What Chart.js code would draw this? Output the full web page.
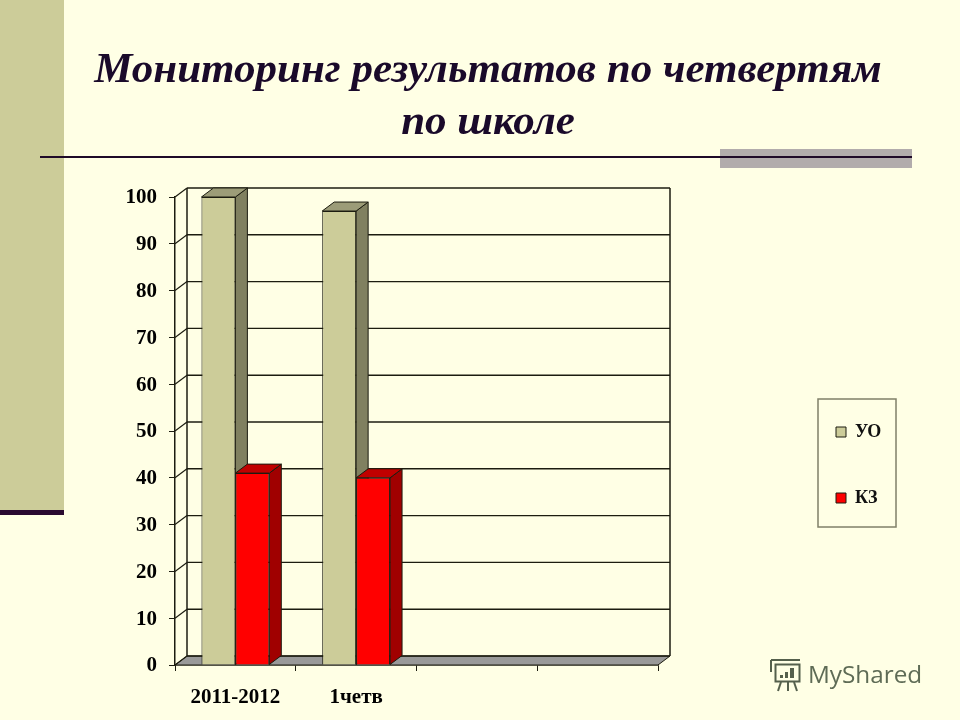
<!DOCTYPE html>
<html>
<head>
<meta charset="utf-8">
<style>html,body{margin:0;padding:0;background:#FFFFE5;overflow:hidden}canvas{display:block}</style>
<script src="https://cdn.jsdelivr.net/npm/chart.js@4"></script>
</head>
<body>
<canvas id="c" width="960" height="720" style="width:960px;height:720px"></canvas>
<script>
const titleLines = ['Мониторинг результатов по четвертям', 'по школе'];
const categories = ['2011-2012', '1четв', '', ''];
const seriesUO = [100, 97, null, null];
const seriesKZ = [41, 40, null, null];
const yTicks = [0, 10, 20, 30, 40, 50, 60, 70, 80, 90, 100];

const DX = 12, DY = -9;
const INK = '#1c1c10';
const serif = '"Liberation Serif","Times New Roman",serif';
const faces = [
  {top: '#9C9C78', side: '#808060'},
  {top: '#C00000', side: '#A00000'}
];

function poly(ctx, pts, fill, stroke) {
  ctx.beginPath();
  pts.forEach((p, i) => i ? ctx.lineTo(p[0], p[1]) : ctx.moveTo(p[0], p[1]));
  ctx.closePath();
  if (fill) { ctx.fillStyle = fill; ctx.fill(); }
  if (stroke) { ctx.strokeStyle = stroke; ctx.lineWidth = 1; ctx.stroke(); }
}
function line(ctx, x1, y1, x2, y2, c, w) {
  ctx.beginPath(); ctx.moveTo(x1, y1); ctx.lineTo(x2, y2);
  ctx.strokeStyle = c; ctx.lineWidth = w || 1; ctx.stroke();
}

const slide = {
  id: 'slide',
  afterLayout(chart) {
    const t = chart.titleBlock;
    t.left = 16; t.right = 960;
    const l = chart.legend;
    l.left = 788; l.right = 960; l.top = 375; l.bottom = 640;
  },
  beforeDraw(chart) {
    const ctx = chart.ctx;
    ctx.save();
    ctx.fillStyle = '#FFFFE5'; ctx.fillRect(0, 0, 960, 720);
    ctx.fillStyle = '#CCCC99'; ctx.fillRect(0, 0, 64, 510);
    ctx.fillStyle = '#2A0A30'; ctx.fillRect(0, 510, 64, 5);
    ctx.fillStyle = '#B2ACAC'; ctx.fillRect(720, 149, 192, 19);
    ctx.fillStyle = '#1F0A28'; ctx.fillRect(40, 156, 872, 2);
    ctx.strokeStyle = '#808068'; ctx.lineWidth = 1.5;
    ctx.strokeRect(818, 399, 78, 128);
    // MyShared mark
    ctx.strokeStyle = '#55604C'; ctx.lineWidth = 2;
    ctx.strokeRect(775.5, 664.5, 24, 17);
    line(ctx, 771, 660, 800, 660, '#55604C', 2);
    line(ctx, 771, 660, 771, 672, '#55604C', 2);
    line(ctx, 781, 682, 778, 691, '#55604C', 2);
    line(ctx, 788, 682, 788, 691, '#55604C', 2);
    line(ctx, 794, 682, 797, 691, '#55604C', 2);
    ctx.fillStyle = '#55604C';
    ctx.fillRect(780, 675, 3, 3); ctx.fillRect(785, 672, 3, 6); ctx.fillRect(790, 668, 4, 10);
    ctx.fillStyle = '#5E6B55';
    ctx.font = '24.3px "Open Sans"';
    ctx.textBaseline = 'alphabetic'; ctx.textAlign = 'left';
    ctx.fillText('MyShared', 808, 683);
    ctx.restore();
  },
  beforeDatasetsDraw(chart) {
    const ctx = chart.ctx, a = chart.chartArea, y = chart.scales.y;
    ctx.save();
    // floor
    poly(ctx, [[a.left, a.bottom], [a.left + DX, a.bottom + DY], [a.right + DX, a.bottom + DY], [a.right, a.bottom]], '#999999', INK);
    // walls
    line(ctx, a.left + DX, a.top + DY, a.left + DX, a.bottom + DY, INK, 1.5);
    line(ctx, a.right + DX, a.top + DY, a.right + DX, a.bottom + DY, INK, 1.5);
    yTicks.forEach(v => {
      const py = y.getPixelForValue(v);
      line(ctx, a.left, py, a.left + DX, py + DY, INK, 1.2);
      line(ctx, a.left + DX, py + DY, a.right + DX, py + DY, INK, 1.4);
    });
    // side and top faces of bars
    [0, 1].forEach(d => {
      const values = chart.data.datasets[d].data;
      chart.getDatasetMeta(d).data.forEach((b, i) => {
        if (values[i] == null) return;
        const l = b.x - b.width / 2, r = b.x + b.width / 2;
        poly(ctx, [[r, b.y], [r + DX, b.y + DY], [r + DX, b.base + DY], [r, b.base]], faces[d].side, INK);
        poly(ctx, [[l, b.y], [l + DX, b.y + DY], [r + DX, b.y + DY], [r, b.y]], faces[d].top, INK);
      });
    });
    ctx.restore();
  }
};

new Chart(document.getElementById('c'), {
  type: 'bar',
  data: {
    labels: categories,
    datasets: [
      {label: 'УО', data: seriesUO, backgroundColor: '#CCCC99', borderColor: INK, borderWidth: 1},
      {label: 'КЗ', data: seriesKZ, backgroundColor: '#FF0000', borderColor: INK, borderWidth: 1}
    ]
  },
  plugins: [slide],
  options: {
    responsive: false,
    animation: false,
    devicePixelRatio: 1,
    layout: {padding: {left: 75, right: 302, top: 0, bottom: 0}},
    datasets: {bar: {barPercentage: 1, categoryPercentage: 68 / 121}},
    plugins: {
      tooltip: {enabled: false},
      title: {
        display: true,
        text: titleLines,
        color: '#1A0A2A',
        font: {family: serif, size: 43, weight: 'bold', style: 'italic', lineHeight: 1.2},
        padding: {top: 45, bottom: 48.8}
      },
      legend: {
        position: 'chartArea',
        align: 'start',
        labels: {
          boxWidth: 10, boxHeight: 10, padding: 48,
          color: '#111', font: {family: serif, size: 18, weight: 'bold'}
        }
      }
    },
    scales: {
      x: {
        afterFit(s) { s.height = 55; },
        grid: {drawOnChartArea: false, tickLength: 6, color: INK},
        border: {color: INK, width: 1.5},
        ticks: {autoSkip: false, maxRotation: 0, padding: 14, color: '#000', font: {family: serif, size: 21, weight: 'bold'}}
      },
      y: {
        min: 0, max: 100,
        afterFit(s) { s.width = 100; },
        afterBuildTicks(s) { s.ticks = yTicks.map(v => ({value: v})); },
        grid: {drawOnChartArea: false, tickLength: 6, color: INK},
        border: {color: INK, width: 1.5},
        ticks: {padding: 12, labelOffset: 1, color: '#000', font: {family: serif, size: 21, weight: 'bold'}}
      }
    }
  }
});
</script>
</body>
</html>
